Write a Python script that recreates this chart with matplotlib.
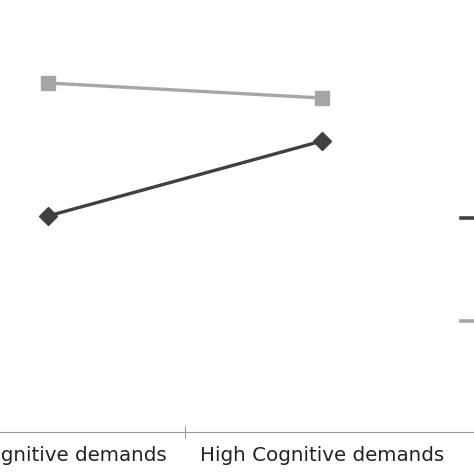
import matplotlib
matplotlib.use("Agg")
import matplotlib.pyplot as plt

categories = ["Low Cognitive demands", "High Cognitive demands"]
series_names = ["Series 1", "Series 2"]
dark_vals = [2.16, 2.91]
light_vals = [3.49, 3.34]

fig = plt.figure(figsize=(4.74, 4.74), dpi=100)
ax = fig.add_axes([-89/474, 42/474, 563/474, 432/474])
x = list(range(len(categories)))
l1, = ax.plot(x, dark_vals, color="#404040", lw=2.4, marker="D", ms=9, label=series_names[0], clip_on=False)
l2, = ax.plot(x, light_vals, color="#a6a6a6", lw=2.4, marker="s", ms=10, label=series_names[1], clip_on=False)
ax.set_xlim(-0.5, 1.5 + 15/274)
ax.set_ylim(0, 4.32)
ax.set_yticks([])
ax.set_xticks([0.5])
ax.set_xticklabels([""])
ax.tick_params(axis="x", length=8, color="#999999", direction="inout")
for i, c in enumerate(categories):
    ax.text(i, -0.14, c, ha="center", va="top", fontsize=14.3, color="#222222")
for s in ["top", "right", "left"]:
    ax.spines[s].set_visible(False)
ax.spines["bottom"].set_color("#999999")

fig.legend(handles=[l1, l2], loc="upper left", bbox_to_anchor=(455/474, 1-205/474),
           frameon=False, handlelength=1.6, labelspacing=5.8, fontsize=11,
           handletextpad=0.5, borderaxespad=0)
for h in fig.legends[0].legend_handles:
    h.set_marker("")
    h.set_linewidth(2.6)
fig.savefig("out.png", dpi=100)
